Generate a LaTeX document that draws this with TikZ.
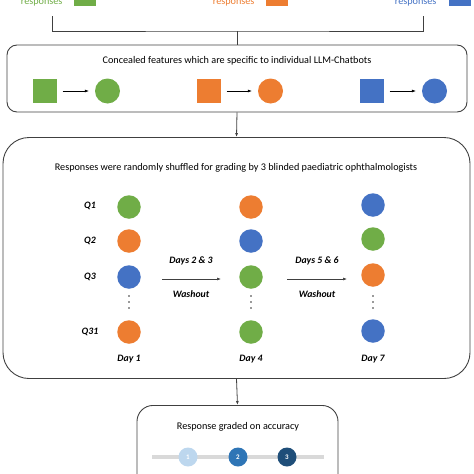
\documentclass[tikz,border=0pt]{standalone}
\usepackage{fontspec}
\setmainfont{Carlito}
\usetikzlibrary{arrows.meta}
\definecolor{cgreen}{HTML}{70AD47}
\definecolor{corange}{HTML}{ED7D31}
\definecolor{cblue}{HTML}{4472C4}
\definecolor{lineg}{HTML}{404040}
\definecolor{s1}{HTML}{BDD7EE}
\definecolor{s2}{HTML}{2E75B6}
\definecolor{s3}{HTML}{1F4E79}
\definecolor{gline}{HTML}{D9D9D9}
\begin{document}
\begin{tikzpicture}[x=1pt,y=-1pt,
  box/.style={draw=lineg,line width=0.9pt,rounded corners=#1},
  sq/.style={fill=#1,draw=none,minimum size=24pt,inner sep=0pt},
  dot/.style={circle,fill=#1,draw=none,minimum size=23.5pt,inner sep=0pt},
  sdot/.style={circle,fill=#1,draw=none,minimum size=19pt,inner sep=0pt,text=white,font=\fontsize{7}{8}\selectfont\bfseries},
  tick/.style={circle,fill=black!80,draw=none,minimum size=1.8pt,inner sep=0pt},
  lbl/.style={font=\fontsize{9.8}{11}\selectfont\bfseries\itshape},
  ttl/.style={font=\fontsize{10.2}{12}\selectfont},
  top/.style={font=\fontsize{10.2}{12}\selectfont},
  arr/.style={-{Latex[length=4pt,width=3pt]},line width=0.6pt,draw=black},
  conn/.style={draw=lineg,line width=1pt}
]
\useasboundingbox (0,0) rectangle (474,474);
\begin{scope}
\clip (0,0) rectangle (474,474);
% top labels (cut off)
\node[anchor=base east,text=cgreen,top] (rg) at (66,4) {responses};
\node[sq=cgreen,minimum width=22pt,minimum height=18pt] (qg) at (85,-3) {};
\node[anchor=base east,text=corange,top] (ro) at (258,4) {responses};
\node[sq=corange,minimum width=22pt,minimum height=18pt] (qo) at (277,-3) {};
\node[anchor=base east,text=cblue,top] (rb) at (440,4) {responses};
\node[sq=cblue,minimum width=22pt,minimum height=18pt] (qb) at (460,-3) {};
% bracket
\coordinate (bl) at (52,16);
\coordinate (br) at (423,16);
\coordinate (bm) at (237,31);
\draw[conn] (bl) |- (bm) -| (br);
% box 1
\node[box=10pt,minimum width=460pt,minimum height=67pt,inner sep=0pt] (b1) at (237,78.5) {};
\draw[conn] (bm) -- (b1.north);
\node[ttl] (t1) at (237,61) {Concealed features which are specific to individual LLM-Chatbots};
\node[sq=cgreen] (s1) at (44.5,91) {};
\node[dot=cgreen,minimum size=25pt] (c1) at (107.5,91) {};
\node[sq=corange] (s2) at (208.5,91) {};
\node[dot=corange,minimum size=25pt] (c2) at (270.5,91) {};
\node[sq=cblue] (s3) at (371.5,91) {};
\node[dot=cblue,minimum size=25pt] (c3) at (434.5,91) {};
\draw[arr] ([xshift=6pt]s1.east) -- ([xshift=-6pt]c1.west);
\draw[arr] ([xshift=6pt]s2.east) -- ([xshift=-6pt]c2.west);
\draw[arr] ([xshift=6pt]s3.east) -- ([xshift=-6pt]c3.west);
% box 2
\node[box=26pt,minimum width=467pt,minimum height=241pt,inner sep=0pt] (b2) at (236.5,258) {};
\draw[arr,draw=lineg,line width=0.8pt] (b1.south) -- (b2.north);
\node[ttl] (t2) at (236,168) {Responses were randomly shuffled for grading by 3 blinded paediatric ophthalmologists};
% Q labels
\node[lbl] (q1) at (90,206) {Q1};
\node[lbl] (q2) at (90,241) {Q2};
\node[lbl] (q3) at (90,277) {Q3};
\node[lbl] (q31) at (90,332) {Q31};
% column 1
\node[dot=cgreen] (a1) at (129,207) {};
\node[dot=corange] (a2) at (129,241) {};
\node[dot=cblue] (a3) at (129,277) {};
\node[tick] (ad1) at (129,296) {};
\node[tick] (ad2) at (129,302) {};
\node[tick] (ad3) at (129,308) {};
\node[dot=corange] (a4) at (129,332) {};
\node[lbl] (d1) at (129,359) {Day 1};
% column 2
\node[dot=corange] (e1) at (251,207) {};
\node[dot=cblue] (e2) at (251,241) {};
\node[dot=cgreen] (e3) at (251,277) {};
\node[tick] (ed1) at (251,296) {};
\node[tick] (ed2) at (251,302) {};
\node[tick] (ed3) at (251,308) {};
\node[dot=cgreen] (e4) at (251,332) {};
\node[lbl] (d4) at (251,359) {Day 4};
% column 3
\node[dot=cblue] (f1) at (373,205) {};
\node[dot=cgreen] (f2) at (373,239) {};
\node[dot=corange] (f3) at (373,275) {};
\node[tick] (fd1) at (373,296) {};
\node[tick] (fd2) at (373,302) {};
\node[tick] (fd3) at (373,308) {};
\node[dot=cblue] (f4) at (373,331) {};
\node[lbl] (d7) at (373,359) {Day 7};
% washout arrows
\coordinate (w1a) at (162,279);
\coordinate (w1b) at (221,279);
\draw[arr,draw=lineg] (w1a) -- (w1b);
\node[lbl] (w1t) at (191,261) {Days 2 \& 3};
\node[lbl] (w1u) at (191,294) {Washout};
\coordinate (w2a) at (287,279);
\coordinate (w2b) at (347,279);
\draw[arr,draw=lineg] (w2a) -- (w2b);
\node[lbl] (w2t) at (317,261) {Days 5 \& 6};
\node[lbl] (w2u) at (317,294) {Washout};
% box 3
\node[box=16pt,minimum width=201pt,minimum height=120pt,inner sep=0pt,anchor=north] (b3) at (237.5,405) {};
\draw[arr,draw=lineg,line width=0.8pt] (b2.south) -- (b3.north);
\node[ttl] (t3) at (238,427) {Response graded on accuracy};
\coordinate (gl) at (152,457);
\coordinate (gr) at (324,457);
\draw[draw=gline,line width=4pt] (gl) -- (gr);
\node[sdot=s1] (g1) at (188,457) {1};
\node[sdot=s2] (g2) at (238,457) {2};
\node[sdot=s3] (g3) at (287,457) {3};
\end{scope}
\end{tikzpicture}
\end{document}
